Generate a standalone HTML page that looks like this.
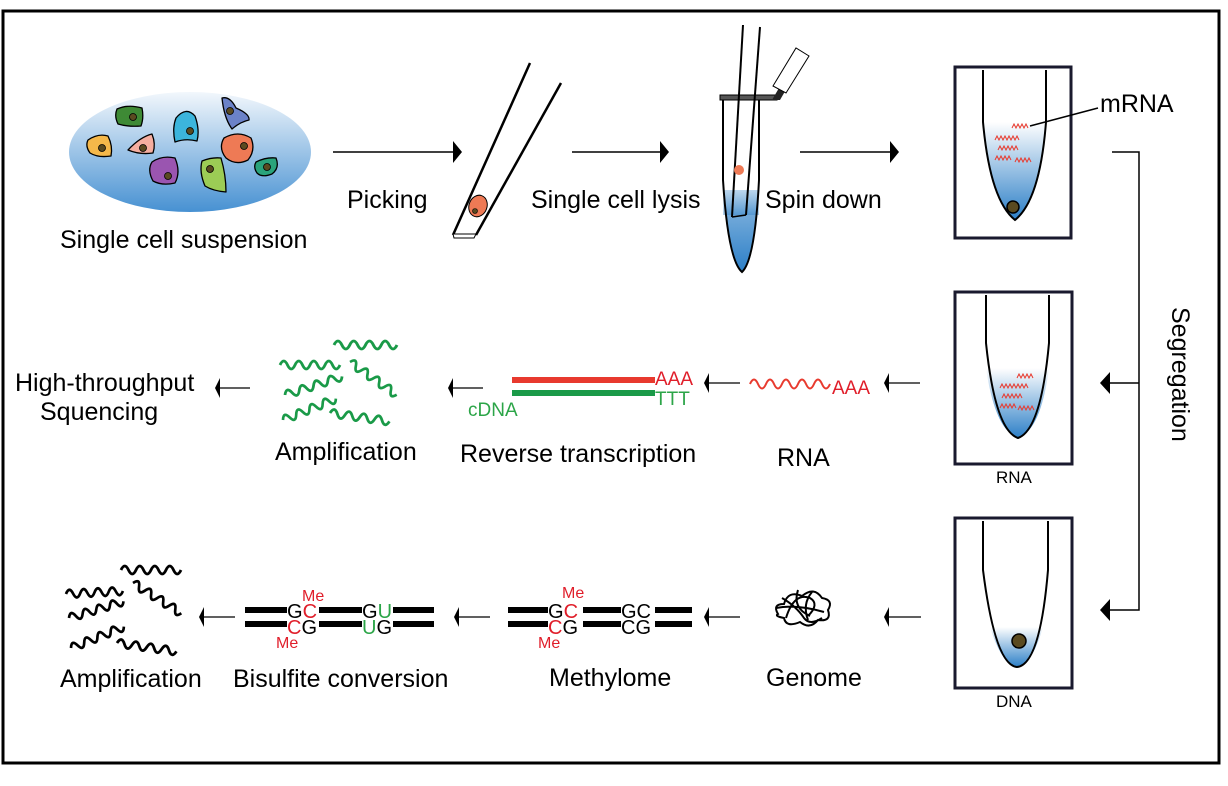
<!DOCTYPE html>
<html><head><meta charset="utf-8"><style>
html,body{margin:0;padding:0;background:#fff}
svg{display:block}
text{font-family:"Liberation Sans",Arial,sans-serif}
</style></head><body>
<svg width="1228" height="786" viewBox="0 0 1228 786" xmlns="http://www.w3.org/2000/svg">
<defs>
<linearGradient id="g1" x1="0" y1="0" x2="0" y2="1"><stop offset="0" stop-color="#f2f7fc"/><stop offset="1" stop-color="#4791d2"/></linearGradient>
<linearGradient id="g2" x1="0" y1="0" x2="0" y2="1"><stop offset="0" stop-color="#ffffff"/><stop offset="1" stop-color="#2c7fc7"/></linearGradient>
<path id="w" d="M0 0 q3.75-8 7.5 0 t7.5 0 t7.5 0 t7.5 0 t7.5 0 t7.5 0 t7.5 0 t7.5 0"/>
</defs>
<rect x="3" y="11" width="1216" height="752" fill="#fff" stroke="#000" stroke-width="3"/>

<!-- suspension -->
<ellipse cx="190" cy="152" rx="121" ry="60" fill="url(#g1)"/>
<g stroke="#000" stroke-width="1.3" stroke-linejoin="round">
<path d="M117 109 Q128 104 142 108 Q144 118 141 126 Q128 127 118 124 Q114 116 117 109Z" fill="#3e8a35"/>
<path d="M88 140 Q98 133 108 136 Q113 146 111 156 Q98 158 90 153 Q85 146 88 140Z" fill="#f5b84a"/>
<path d="M128 150 Q140 137 152 134 Q156 144 153 153 Q140 155 128 150Z" fill="#f5aea0"/>
<path d="M176 118 Q186 106 195 116 Q200 130 197 141 Q186 138 175 142 Q172 128 176 118Z" fill="#3cb5dc"/>
<path d="M222 98 Q230 96 236 108 Q250 114 249 120 Q240 122 232 129 Q224 118 222 98Z" fill="#6b82c8"/>
<path d="M224 138 Q238 130 251 138 Q256 150 248 160 Q236 166 226 158 Q218 148 224 138Z" fill="#ee7a55"/>
<path d="M152 162 Q162 155 175 158 Q181 172 175 183 Q162 186 153 181 Q147 170 152 162Z" fill="#9a55b0"/>
<path d="M202 161 Q212 157 221 158 Q226 175 226 192 Q213 191 205 186 Q199 172 202 161Z" fill="#9ccc55"/>
<path d="M256 162 Q266 157 276 158 Q280 168 272 174 Q262 178 257 173 Q253 167 256 162Z" fill="#2aa37b"/>
</g>
<g fill="#5a4a20" stroke="#000" stroke-width="0.8">
<circle cx="133" cy="117" r="3.5"/><circle cx="102" cy="148" r="3.5"/><circle cx="143" cy="148" r="3.5"/><circle cx="190" cy="131" r="3.5"/><circle cx="230" cy="111" r="3.5"/><circle cx="244" cy="146" r="3.5"/><circle cx="168" cy="176" r="3.5"/><circle cx="210" cy="169" r="3.5"/><circle cx="267" cy="167" r="3.5"/>
</g>
<text x="60" y="248" font-size="25">Single cell suspension</text>

<!-- arrows top -->
<g stroke="#000" stroke-width="1.5"><line x1="333" y1="152" x2="455" y2="152"/><line x1="572" y1="152" x2="660" y2="152"/><line x1="800" y1="152" x2="892" y2="152"/></g>
<path d="M453 141 L462 152 L453 163Z M660 141 L669 152 L660 163Z M890 141 L899 152 L890 163Z"/>
<text x="347" y="208" font-size="25">Picking</text>
<text x="531" y="208" font-size="25">Single cell lysis</text>
<text x="765" y="208" font-size="25">Spin down</text>

<!-- pipette -->
<g stroke="#000" stroke-width="2.5" fill="none"><line x1="530" y1="63" x2="453" y2="235"/><line x1="561" y1="83" x2="476" y2="235"/></g>
<path d="M453 234 L476 234 L474 238 L454 238Z" fill="#fff" stroke="#000"/>
<ellipse cx="478" cy="206" rx="9" ry="11" fill="#ee7a55" stroke="#000" transform="rotate(20 478 206)"/>
<circle cx="475" cy="211" r="2.5" fill="#5a4a20" stroke="#000" stroke-width="0.6"/>

<!-- tube -->
<path d="M723 100 L723 180 Q728 260 742 272 Q755 260 759 180 L759 100Z" fill="url(#g2)"/>
<path d="M723 100 L723 190 L759 190 L759 100Z" fill="#fff"/>
<path d="M723 190 L759 190 L759 215 L723 215Z" fill="url(#g2)" opacity="0.4"/>
<path d="M723 100 L723 180 Q728 260 742 272 Q755 260 759 180 L759 100" fill="none" stroke="#000" stroke-width="2"/>
<rect x="720" y="95" width="57" height="5" fill="#555" stroke="#000"/>
<path d="M772 100 L800 52 L806 55 L780 100Z" fill="#222"/>
<path d="M773 86 L796 48 L809 56 L786 93Z" fill="#fff" stroke="#000"/>
<g stroke="#000" stroke-width="2" fill="none"><line x1="743" y1="25" x2="732" y2="217"/><line x1="760" y1="27" x2="746" y2="215"/></g>
<path d="M732 217 L746 215" stroke="#000" stroke-width="1.5"/>
<circle cx="739" cy="170" r="5" fill="#ee7a55"/>

<!-- box1 -->
<rect x="955" y="67" width="116" height="171" fill="#fff" stroke="#1a1a2e" stroke-width="3"/>
<path d="M983 122 Q990 200 1015 220 Q1040 200 1046 122Z" fill="url(#g2)"/>
<path d="M983 70 L983 122 Q990 200 1015 220 Q1040 200 1046 122 L1046 70" fill="none" stroke="#000" stroke-width="2"/>
<circle cx="1013" cy="207" r="6" fill="#5a4a20" stroke="#000" stroke-width="1.5"/>
<g stroke="#e83a2e" stroke-width="1" fill="none">
<path d="M1012 128 l2-4 2 4 2-4 2 4 2-4 2 4 2-4 2 4"/>
<path d="M995 140 l2-4 2 4 2-4 2 4 2-4 2 4 2-4 2 4 2-4 2 4 2-4 2 4"/>
<path d="M998 150 l2-4 2 4 2-4 2 4 2-4 2 4 2-4 2 4 2-4 2 4"/>
<path d="M995 160 l2-4 2 4 2-4 2 4 2-4 2 4 2-4 2 4"/>
<path d="M1015 162 l2-4 2 4 2-4 2 4 2-4 2 4 2-4 2 4"/>
</g>
<line x1="1030" y1="126" x2="1098" y2="108" stroke="#000" stroke-width="1.5"/>
<text x="1100" y="112" font-size="25">mRNA</text>

<!-- bracket -->
<g stroke="#000" stroke-width="1.5" fill="none"><polyline points="1112,152 1139,152 1139,610 1108,610"/><line x1="1139" y1="383" x2="1108" y2="383"/></g>
<path d="M1100 383 L1110 372 L1110 394Z M1100 610 L1110 599 L1110 621Z"/>
<text transform="translate(1172,307) rotate(90)" font-size="25">Segregation</text>

<!-- box2 -->
<rect x="955" y="292" width="117" height="172" fill="#fff" stroke="#1a1a2e" stroke-width="3"/>
<path d="M986 368 Q995 430 1018 438 Q1041 430 1049 368Z" fill="url(#g2)"/>
<path d="M986 295 L986 343 Q995 430 1018 438 Q1041 430 1049 343 L1049 295" fill="none" stroke="#000" stroke-width="2"/>
<g stroke="#e83a2e" stroke-width="1" fill="none">
<path d="M1017 378 l2-4 2 4 2-4 2 4 2-4 2 4 2-4 2 4"/>
<path d="M1000 388 l2-4 2 4 2-4 2 4 2-4 2 4 2-4 2 4 2-4 2 4 2-4 2 4 2-4 2 4"/>
<path d="M1002 398 l2-4 2 4 2-4 2 4 2-4 2 4 2-4 2 4 2-4 2 4"/>
<path d="M1000 408 l2-4 2 4 2-4 2 4 2-4 2 4 2-4 2 4"/>
<path d="M1018 410 l2-4 2 4 2-4 2 4 2-4 2 4 2-4 2 4"/>
</g>
<text x="996" y="483" font-size="17">RNA</text>

<!-- box3 -->
<rect x="955" y="518" width="117" height="170" fill="#fff" stroke="#1a1a2e" stroke-width="3"/>
<path d="M990 627 Q1002 665 1017 667 Q1032 665 1043 627Z" fill="url(#g2)"/>
<path d="M983 521 L983 570 Q995 665 1017 667 Q1040 665 1048 570 L1048 521" fill="none" stroke="#000" stroke-width="2"/>
<circle cx="1019" cy="641" r="7" fill="#5a4a20" stroke="#000" stroke-width="1.5"/>
<text x="996" y="707" font-size="17">DNA</text>

<!-- small arrows -->
<g stroke="#000" stroke-width="1.3">
<line x1="920" y1="383" x2="886" y2="383"/><line x1="740" y1="383" x2="706" y2="383"/><line x1="483" y1="388" x2="450" y2="388"/><line x1="250" y1="388" x2="217" y2="388"/>
<line x1="921" y1="617" x2="886" y2="617"/><line x1="740" y1="617" x2="706" y2="617"/><line x1="490" y1="617" x2="456" y2="617"/><line x1="235" y1="617" x2="201" y2="617"/>
</g>
<path d="M884 383 L889 373 L889 393Z M704 383 L709 373 L709 393Z M448 388 L453 378 L453 398Z M215 388 L220 378 L220 398Z M884 617 L889 607 L889 627Z M704 617 L709 607 L709 627Z M454 617 L459 607 L459 627Z M199 617 L204 607 L204 627Z"/>

<!-- row 2 -->
<path d="M750 384 q4-9 8 0 t8 0 t8 0 t8 0 t8 0 t8 0 t8 0 t8 0 t8 0 t8 0" fill="none" stroke="#e83a2e" stroke-width="2"/>
<text x="832" y="394" font-size="19" fill="#e01e2a">AAA</text>
<text x="777" y="466" font-size="25">RNA</text>
<rect x="512" y="377" width="143" height="6" fill="#e8392e"/>
<rect x="512" y="390" width="143" height="6" fill="#1a9a48"/>
<text x="655" y="385" font-size="19" fill="#e01e2a">AAA</text>
<text x="655" y="405" font-size="19" fill="#2ca548">TTT</text>
<text x="468" y="416" font-size="19" fill="#2ca548">cDNA</text>
<text x="460" y="462" font-size="25">Reverse transcription</text>
<g fill="none" stroke="#1a9a48" stroke-width="2.8">
<use href="#w" transform="translate(334,345) scale(1.05,1)"/>
<use href="#w" transform="translate(280,365)"/>
<use href="#w" transform="translate(350,362) rotate(35) scale(0.95,1)"/>
<use href="#w" transform="translate(285,395) rotate(-18)"/>
<use href="#w" transform="translate(283,420) rotate(-22) scale(0.95,1)"/>
<use href="#w" transform="translate(330,413) rotate(8)"/>
</g>
<text x="275" y="460" font-size="25">Amplification</text>
<text x="15" y="391" font-size="25">High-throughput</text>
<text x="40" y="420" font-size="25">Squencing</text>

<!-- row 3 -->
<g fill="none" stroke="#000" stroke-width="2">
<path d="M778 614 q-6-10 6-10 q4-14 18-8 q12-10 20 2 q12 2 6 12 q4 12-10 10 q-8 10-18 2 q-14 6-16-4 q-10-2-6-4z"/>
<path d="M782 598 q14 8 22 20 q6 8 18 0 M786 618 q8-26 24-20 q10 6-2 18 M798 590 q-6 18 12 26 M812 592 q-10 12-4 28 M776 608 q20-4 48 4"/>
</g>
<text x="766" y="686" font-size="25">Genome</text>

<g fill="#000">
<rect x="508" y="607" width="40" height="6"/><rect x="508" y="621" width="40" height="6"/>
<rect x="583" y="607" width="38" height="6"/><rect x="583" y="621" width="38" height="6"/>
<rect x="655" y="607" width="37" height="6"/><rect x="655" y="621" width="37" height="6"/>
<rect x="245" y="607" width="42" height="6"/><rect x="245" y="621" width="42" height="6"/>
<rect x="319" y="607" width="43" height="6"/><rect x="319" y="621" width="43" height="6"/>
<rect x="393" y="607" width="41" height="6"/><rect x="393" y="621" width="41" height="6"/>
</g>
<g font-size="20">
<text x="548" y="618">G<tspan fill="#e01e2a">C</tspan></text>
<text x="548" y="634"><tspan fill="#e01e2a">C</tspan>G</text>
<text x="621" y="618">GC</text><text x="621" y="634">CG</text>
<text x="287" y="618">G<tspan fill="#e01e2a">C</tspan></text>
<text x="287" y="634"><tspan fill="#e01e2a">C</tspan>G</text>
<text x="362" y="618">G<tspan fill="#2ca548">U</tspan></text>
<text x="362" y="634"><tspan fill="#2ca548">U</tspan>G</text>
</g>
<g font-size="16" fill="#e01e2a">
<text x="562" y="598">Me</text><text x="538" y="648">Me</text>
<text x="302" y="601">Me</text><text x="276" y="648">Me</text>
</g>
<text x="549" y="686" font-size="25">Methylome</text>
<text x="233" y="687" font-size="25">Bisulfite conversion</text>
<g fill="none" stroke="#000" stroke-width="2.8">
<use href="#w" transform="translate(121,570)"/>
<use href="#w" transform="translate(66,594) rotate(-3) scale(0.95,1)"/>
<use href="#w" transform="translate(133,583) rotate(32) scale(0.95,1)"/>
<use href="#w" transform="translate(69,618) rotate(-17) scale(0.95,1)"/>
<use href="#w" transform="translate(71,648) rotate(-22) scale(0.95,1)"/>
<use href="#w" transform="translate(117,643) rotate(8)"/>
</g>
<text x="60" y="687" font-size="25">Amplification</text>
</svg>
</body></html>
